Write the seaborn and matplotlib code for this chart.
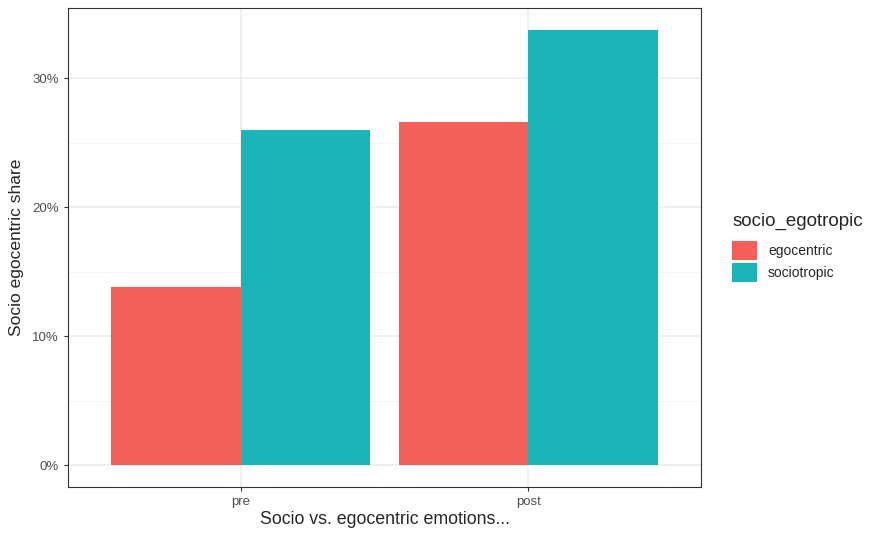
import pandas as pd
import seaborn as sns
import matplotlib.pyplot as plt
from matplotlib.ticker import PercentFormatter, MultipleLocator

# values
periods = ['pre', 'pre', 'post', 'post']
kinds = ['egocentric', 'sociotropic', 'egocentric', 'sociotropic']
shares = [0.138, 0.260, 0.266, 0.337]

df = pd.DataFrame({'period': periods, 'socio_egotropic': kinds, 'share': shares})

sns.set_style('white')
plt.rcParams['font.family'] = ['Liberation Sans', 'DejaVu Sans']

fig = plt.figure(figsize=(8.75, 5.4), dpi=100)
ax = fig.add_axes([68 / 875, 53 / 540, 633 / 875, 479 / 540])

sns.barplot(data=df, x='period', y='share', hue='socio_egotropic',
            order=['pre', 'post'], hue_order=['egocentric', 'sociotropic'],
            palette=['#F3605A', '#1AB4B9'], width=0.9, saturation=1,
            errorbar=None, ax=ax, zorder=3)
for p in ax.patches:
    p.set_linewidth(0)

ax.yaxis.set_major_locator(MultipleLocator(0.10))
ax.yaxis.set_minor_locator(MultipleLocator(0.05))
ax.grid(which='major', axis='both', color='#EBEBEB', linewidth=1.1, zorder=0)
ax.grid(which='minor', axis='y', color='#F3F3F3', linewidth=0.6, zorder=0)
ax.set_axisbelow(True)

ax.set_xlim(-0.6, 1.6)
ax.set_ylim(-0.01705, 0.3543)
ax.yaxis.set_major_formatter(PercentFormatter(1.0, decimals=0))

for s in ax.spines.values():
    s.set_color('#333333')
    s.set_linewidth(0.8)

ax.tick_params(axis='both', which='major', length=3, color='#333333',
               labelcolor='#4D4D4D', labelsize=9.5, left=True, bottom=True)
ax.tick_params(axis='y', which='minor', length=0)
ax.set_xlabel('Socio vs. egocentric emotions...', fontsize=12.8, labelpad=2)
ax.set_ylabel('Socio egocentric share', fontsize=12.5, labelpad=6)

handles, labels = ax.get_legend_handles_labels()
ax.get_legend().remove()
leg = ax.legend(handles, labels, title='socio_egotropic', loc='center left',
                bbox_to_anchor=(1.03, 0.5), frameon=False, fontsize=10,
                title_fontsize=13.5, handlelength=1.75, handleheight=1.75,
                handletextpad=0.8, labelspacing=0.2)
leg._legend_box.align = 'left'
leg._legend_box.sep = 8

fig.savefig('out.png', dpi=100)
